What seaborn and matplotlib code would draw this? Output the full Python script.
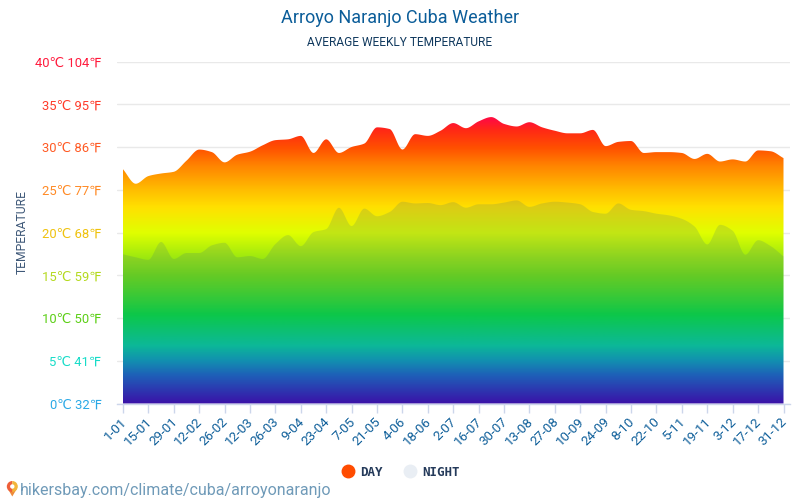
import numpy as np
import pandas as pd
import seaborn as sns
import matplotlib
matplotlib.use("Agg")
import matplotlib.pyplot as plt
from matplotlib.colors import LinearSegmentedColormap
from matplotlib.lines import Line2D
from matplotlib.patches import Circle, Polygon, Wedge
from matplotlib.transforms import ScaledTranslation

day_temps = [27.4,25.7,26.6,26.9,27.1,28.4,29.7,29.4,28.2,29.1,29.45,30.2,30.8,30.9,31.3,29.3,30.9,29.3,30.0,30.4,32.3,32.1,29.7,31.5,31.3,31.9,32.8,32.2,33.0,33.5,32.7,32.4,32.9,32.3,31.9,31.6,31.6,32.0,30.1,30.6,30.7,29.3,29.4,29.4,29.3,28.6,29.2,28.3,28.55,28.3,29.6,29.5,28.7]
night_temps = [17.45,17.1,16.8,18.9,16.9,17.6,17.6,18.5,18.8,17.1,17.25,16.9,18.65,19.7,18.4,20.05,20.4,22.9,20.75,22.8,21.9,22.4,23.6,23.4,23.45,23.2,23.55,22.9,23.3,23.3,23.5,23.75,23.0,23.4,23.6,23.5,23.3,22.4,22.2,23.4,22.65,22.5,22.2,22.0,21.6,20.7,18.6,20.9,20.2,17.4,19.1,18.4,17.2]
date_labels = ["1-01","15-01","29-01","12-02","26-02","12-03","26-03","9-04","23-04","7-05","21-05","4-06","18-06","2-07","16-07","30-07","13-08","27-08","10-09","24-09","8-10","22-10","5-11","19-11","3-12","17-12","31-12"]
y_values = [0,5,10,15,20,25,30,35,40]
y_labels = ["0℃ 32℉","5℃ 41℉","10℃ 50℉","15℃ 59℉","20℃ 68℉","25℃ 77℉","30℃ 86℉","35℃ 95℉","40℃ 104℉"]
y_colors = ["#2aa9e6","#17dcc8","#5ccf16","#b4d91e","#efc20e","#ff8a25","#ff5a24","#ff3b2a","#ff1a3c"]

sns.set_theme(style="white")
plt.rcParams["font.family"] = ["Roboto", "DejaVu Sans"]

W, H = 800, 500
fig = plt.figure(figsize=(W/100, H/100), dpi=100)
L, R, T, B = 117, 790, 61.5, 403.5
ax = fig.add_axes([L/W, 1-B/H, (R-L)/W, (B-T)/H])
step = 660.5/52
ax.set_xlim(-6/step, 52+6.5/step)
ax.set_ylim(0, 40)

def smooth(vals, n=12):
    """Monotone cubic curve through the read values, for drawing only."""
    v = np.asarray(vals, float)
    d = np.diff(v)
    m = np.zeros_like(v)
    m[0], m[-1] = d[0], d[-1]
    for i in range(1, len(v)-1):
        if d[i-1]*d[i] > 0:
            m[i] = 2*d[i-1]*d[i]/(d[i-1]+d[i])
    t = np.linspace(0, 1, n, endpoint=False)
    xs, ys = [], []
    for i in range(len(v)-1):
        ys.append((2*t**3-3*t**2+1)*v[i] + (t**3-2*t**2+t)*m[i]
                  + (-2*t**3+3*t**2)*v[i+1] + (t**3-t**2)*m[i+1])
        xs.append(i + t)
    return np.r_[np.concatenate(xs), len(v)-1], np.r_[np.concatenate(ys), v[-1]]

frame = pd.DataFrame({"week": np.arange(len(day_temps)), "day": day_temps, "night": night_temps})
dx, dy = smooth(frame["day"])
nx, ny = smooth(frame["night"])
sns.lineplot(x=dx, y=dy, ax=ax, color="#ff4500", lw=0, legend=False)
sns.lineplot(x=nx, y=ny, ax=ax, color="#e9eef4", lw=0, legend=False)

cmap = LinearSegmentedColormap.from_list("temp", [
    (0.000, "#3a12a8"), (0.083, "#1e60b8"), (0.125, "#128fb0"), (0.170, "#0cb898"),
    (0.260, "#0cc84a"), (0.375, "#6cd81a"), (0.500, "#e0ff00"), (0.575, "#ffe100"),
    (0.625, "#ffbe00"), (0.700, "#ff8200"), (0.750, "#ff5000"), (0.800, "#ff2a14"),
    (0.830, "#ff0f3c"), (1.000, "#ff0060")])
grad = np.linspace(1, 0, 512).reshape(-1, 1)
ext = [ax.get_xlim()[0], ax.get_xlim()[1], 0, 40]
img = ax.imshow(grad, cmap=cmap, vmin=0, vmax=1, extent=ext, aspect="auto", zorder=2)
img.set_clip_path(Polygon(np.r_[np.c_[dx, dy], [[52, 0], [0, 0]]], transform=ax.transData))

# night band: translucent tint that fades out toward the bottom
over = np.zeros((512, 1, 4))
yy = np.linspace(40, 0, 512)
over[..., 0], over[..., 1], over[..., 2] = 0.20, 0.42, 0.49
over[..., 3] = (np.clip((yy-10)/7, 0, 1)*0.17).reshape(-1, 1)
img2 = ax.imshow(over, extent=ext, aspect="auto", zorder=3)
img2.set_clip_path(Polygon(np.r_[np.c_[nx, ny], [[52, 0], [0, 0]]], transform=ax.transData))
ax.set_xlim(ext[0], ext[1]); ax.set_ylim(0, 40)

for s in ax.spines.values():
    s.set_visible(False)
ax.spines["bottom"].set_visible(True)
ax.spines["bottom"].set_color("#ccd6eb")
ax.spines["bottom"].set_linewidth(1)
ax.set_axisbelow(True)
ax.yaxis.grid(True, color="#e9e9e9", lw=1, zorder=0)
ax.xaxis.grid(False)

ax.set_yticks(y_values, y_labels, fontsize=9.4)
for lab, c in zip(ax.get_yticklabels(), y_colors):
    lab.set_color(c)
ax.tick_params(axis="y", length=0, pad=11)
ax.set_xticks(np.arange(0, 53, 2), date_labels, rotation=45, ha="right",
              rotation_mode="anchor", fontsize=9.6, color="#0f5f9a")
ax.tick_params(axis="x", length=6.5, width=1, color="#ccd6eb", pad=2, bottom=True)
shift = ScaledTranslation(-3/100, 0, fig.dpi_scale_trans)
for lab in ax.get_xticklabels():
    lab.set_transform(lab.get_transform() + shift)
ax.set_ylabel("TEMPERATURE", fontsize=8.7, color="#3e5878", labelpad=0)
ax.yaxis.set_label_coords((29-L)/(R-L), 0.5)

fig.text(400/W, 1-18/H, "Arroyo Naranjo Cuba Weather", ha="center", va="center", fontsize=13, color="#0b5d99")
fig.text(400/W, 1-42/H, "AVERAGE WEEKLY TEMPERATURE", ha="center", va="center", fontsize=8.6, color="#10395e")

handles = [Line2D([], [], ls="", marker="o", ms=9, color="#ff4c00"),
           Line2D([], [], ls="", marker="o", ms=9, color="#e9eef4")]
fig.legend(handles, ["DAY", "NIGHT"], ncol=2, frameon=False, loc="center",
           bbox_to_anchor=(400.5/W, 1-472/H), handlelength=1.0, handletextpad=0.5, columnspacing=1.68,
           prop={"family": "DejaVu Sans Mono", "weight": "bold", "size": 9}, labelcolor="#243a5a")

fig.text(20/W, 1-490/H, "hikersbay.com/climate/cuba/arroyonaranjo", ha="left", va="center",
         fontsize=11.55, color="#6f9ab8")
ov = fig.add_axes([0, 0, 1, 1], facecolor="none")
ov.set_xlim(0, W); ov.set_ylim(H, 0); ov.axis("off")
ov.add_patch(Polygon([[7.6, 488.5], [17, 488.5], [12.3, 496.5]], color="#ee8a3a", lw=0))
ov.add_patch(Wedge((12.3, 486.5), 5.5, 90, 270, color="#ee5f3a", lw=0))
ov.add_patch(Wedge((12.3, 486.5), 5.5, 270, 90, color="#f2b53a", lw=0))
ov.add_patch(Circle((12.3, 486.5), 2.2, color="white", lw=0))

fig.savefig("out.png", dpi=100)
